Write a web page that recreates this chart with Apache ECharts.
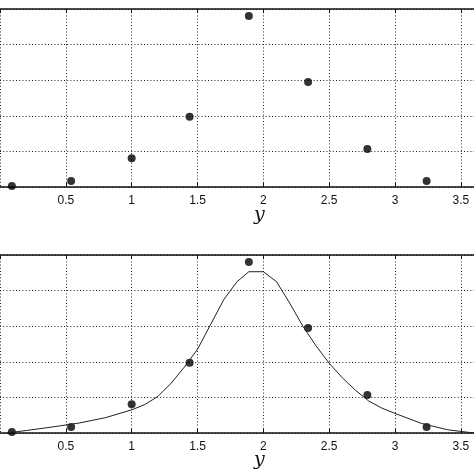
<!DOCTYPE html>
<html>
<head>
<meta charset="utf-8">
<script src="https://cdn.jsdelivr.net/npm/echarts@6/dist/echarts.min.js"></script>
<style>html,body{margin:0;padding:0;background:#fff}#c{width:474px;height:474px}</style>
</head>
<body>
<div id="c"></div>
<script>
// Measured points (same in both panels)
const xPoints = [0.09, 0.54, 1.0, 1.44, 1.89, 2.34, 2.79, 3.24];
const yPoints = [0.03, 0.17, 0.81, 1.97, 4.80, 2.95, 1.07, 0.17];
// Fitted curve (bottom panel)
const curveX = [0.05, 0.2, 0.4, 0.6, 0.8, 1.0, 1.1, 1.2, 1.3, 1.4, 1.5, 1.6, 1.7, 1.8, 1.89, 2.0, 2.1, 2.2, 2.3, 2.4, 2.5, 2.6, 2.7, 2.8, 2.9, 3.0, 3.2, 3.4, 3.6];
const curveY = [0.0, 0.07, 0.17, 0.28, 0.43, 0.65, 0.8, 1.03, 1.4, 1.85, 2.35, 3.05, 3.75, 4.25, 4.53, 4.53, 4.25, 3.65, 3.0, 2.45, 1.96, 1.55, 1.2, 0.9, 0.7, 0.55, 0.27, 0.09, 0.0];
const xAxisTitle = 'y';

const pts = xPoints.map((x, i) => [x, yPoints[i]]);
const curve = curveX.map((x, i) => [x, curveY[i]]);

const grids = [
  {left: -7.5, width: 486, top: 9, height: 178},
  {left: -7.5, width: 486, top: 255, height: 178}
];
const gridLine = {show: true, lineStyle: {color: '#222', width: 1, type: [1, 2.2]}};
function xBottom(gi) {
  return {
    gridIndex: gi, type: 'value', min: 0, max: 3.6, interval: 0.5, position: 'bottom',
    axisLine: {show: true, onZero: false, lineStyle: {color: '#111', width: 1.5}},
    axisTick: {show: true, inside: true, length: 4, lineStyle: {color: '#111'}},
    axisLabel: {show: true, margin: 8, color: '#111', fontSize: 12, fontFamily: 'Liberation Sans, Arial, sans-serif', showMaxLabel: false, showMinLabel: false,
      formatter: v => String(v)},
    splitLine: gridLine
  };
}
function xTop(gi) {
  return {
    gridIndex: gi, type: 'value', min: 0, max: 3.6, interval: 0.5, position: 'top',
    axisLine: {show: true, onZero: false, lineStyle: {color: '#111', width: 1.5}},
    axisTick: {show: true, inside: true, length: 4, lineStyle: {color: '#111'}},
    axisLabel: {show: false}, splitLine: {show: false}
  };
}
function yAx(gi) {
  return {
    gridIndex: gi, type: 'value', min: 0, max: 5, interval: 1,
    axisLine: {show: false}, axisTick: {show: false}, axisLabel: {show: false},
    splitLine: gridLine
  };
}
const chart = echarts.init(document.getElementById('c'), null, {renderer: 'canvas'});
chart.setOption({
  animation: false,
  backgroundColor: '#fff',
  grid: grids,
  xAxis: [xBottom(0), xTop(0), xBottom(1), xTop(1)],
  yAxis: [yAx(0), yAx(1)],
  graphic: [
    {type: 'text', left: 254, top: 206, style: {text: xAxisTitle, font: 'italic 19px "DejaVu Serif", serif', fill: '#111'}},
    {type: 'text', left: 254, top: 451, style: {text: xAxisTitle, font: 'italic 19px "DejaVu Serif", serif', fill: '#111'}}
  ],
  series: [
    {type: 'scatter', xAxisIndex: 0, yAxisIndex: 0, data: pts, symbol: 'circle', symbolSize: 8, itemStyle: {color: '#000'}},
    {type: 'line', xAxisIndex: 2, yAxisIndex: 1, data: curve, showSymbol: false, smooth: false, lineStyle: {color: '#222', width: 1}},
    {type: 'scatter', xAxisIndex: 2, yAxisIndex: 1, data: pts, symbol: 'circle', symbolSize: 8, itemStyle: {color: '#000'}}
  ]
});
</script>
</body>
</html>
